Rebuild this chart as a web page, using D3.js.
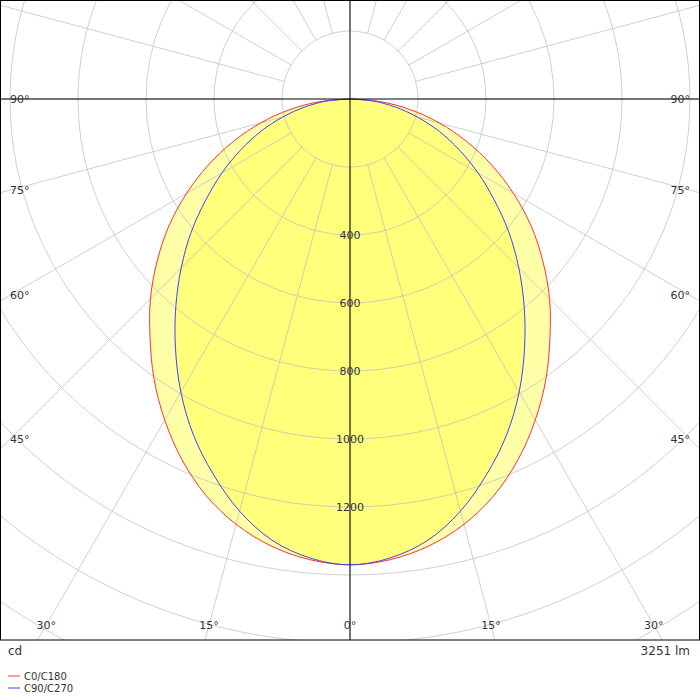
<!DOCTYPE html>
<html><head><meta charset="utf-8">
<script src="https://cdn.jsdelivr.net/npm/d3@7"></script>
<style>body{margin:0;background:#fff}text{font-family:"DejaVu Sans",sans-serif;font-size:11px;fill:#333}</style>
</head><body>
<script>
var angles = [0,5,10,15,20,25,30,35,40,45,50,55,60,65,70,75,80,85,90];
var c0c180 = [1370,1360,1335,1295,1240,1170,1090,1005,915,830,740,650,555,460,365,272,180,90,0];
var c90c270 = [1370,1355,1318,1255,1175,1090,995,895,797,702,610,518,435,355,280,205,135,68,0];
var ringValues = [200,400,600,800,1000,1200,1400,1600,1800,2000,2200];
var ringLabels = [400,600,800,1000,1200];
var angleLabels = [15,30,45,60,75,90];
var lumen = "3251 lm";

var W = 700, H = 640, cx = 350, cy = 99;
var r = d3.scaleLinear().domain([0, 200]).range([0, 68]);

var svg = d3.select("body").append("svg").attr("width", 700).attr("height", 700);
svg.append("clipPath").attr("id", "clip").append("rect").attr("width", W).attr("height", H);
var g = svg.append("g").attr("clip-path", "url(#clip)");

function curve(vals) {
  var pts = angles.map((a, i) => [a, vals[i]]);
  var full = pts.slice().reverse().map(p => [-p[0], p[1]]).concat(pts.slice(1));
  return d3.line()
    .x(p => cx + r(p[1]) * Math.sin(p[0] * Math.PI / 180))
    .y(p => cy + r(p[1]) * Math.cos(p[0] * Math.PI / 180))
    .curve(d3.curveCatmullRomClosed)(full);
}
g.append("path").attr("d", curve(c0c180)).attr("fill", "#ffff00").attr("fill-opacity", 0.34);
g.append("path").attr("d", curve(c90c270)).attr("fill", "#ffff00").attr("fill-opacity", 0.26);

// grid rings
g.selectAll("circle.ring").data(ringValues).enter().append("circle")
  .attr("cx", cx).attr("cy", cy).attr("r", d => r(d))
  .attr("fill", "none").attr("stroke", "#bbb").attr("stroke-opacity", 0.7);

// radial lines every 15 deg
var radials = d3.range(0, 360, 15);
g.selectAll("line.rad").data(radials).enter().append("line")
  .attr("x1", d => cx + r(200) * Math.sin(d * Math.PI / 180))
  .attr("y1", d => cy + r(200) * Math.cos(d * Math.PI / 180))
  .attr("x2", d => cx + 1000 * Math.sin(d * Math.PI / 180))
  .attr("y2", d => cy + 1000 * Math.cos(d * Math.PI / 180))
  .attr("stroke", "#bbb").attr("stroke-opacity", 0.7);

g.append("path").attr("d", curve(c0c180)).attr("fill", "none").attr("stroke", "#ff3030");
g.append("path").attr("d", curve(c90c270)).attr("fill", "none").attr("stroke", "#4040ff");

// axes
g.append("line").attr("x1", 0).attr("x2", W).attr("y1", cy).attr("y2", cy).attr("stroke", "#000");
g.append("line").attr("x1", cx).attr("x2", cx).attr("y1", 0).attr("y2", H).attr("stroke", "#000");

ringLabels.forEach(v => {
  svg.append("text").attr("x", cx).attr("y", cy + r(v) + 4).attr("text-anchor", "middle").text(v);
});

angleLabels.forEach(a => {
  var rad = a * Math.PI / 180;
  var dy = (cx - 10) / Math.tan(rad);
  if (cy + dy < H - 20) {
    var y = cy + dy + 4;
    svg.append("text").attr("x", 10).attr("y", y).text(a + "°");
    svg.append("text").attr("x", 690).attr("y", y).attr("text-anchor", "end").text(a + "°");
  } else {
    var dx = (H - 15 - cy) * Math.tan(rad);
    svg.append("text").attr("x", cx - dx).attr("y", 629).attr("text-anchor", "middle").text(a + "°");
    svg.append("text").attr("x", cx + dx).attr("y", 629).attr("text-anchor", "middle").text(a + "°");
  }
});
svg.append("text").attr("x", cx).attr("y", 629).attr("text-anchor", "middle").text("0°");

svg.append("rect").attr("x", 0.5).attr("y", 0.5).attr("width", W - 1).attr("height", H - 0.5)
  .attr("fill", "none").attr("stroke", "#000");

svg.append("text").attr("x", 8).attr("y", 655).style("font-size", "12px").text("cd");
svg.append("text").attr("x", 690).attr("y", 655).attr("text-anchor", "end").style("font-size", "12px").text(lumen);

[["C0/C180", "#ff3030"], ["C90/C270", "#4040ff"]].forEach((d, i) => {
  var y = 676 + i * 12;
  svg.append("line").attr("x1", 8).attr("x2", 20).attr("y1", y).attr("y2", y).attr("stroke", d[1]);
  svg.append("text").attr("x", 24).attr("y", y + 4).style("font-size", "10px").text(d[0]);
});
</script>
</body></html>
